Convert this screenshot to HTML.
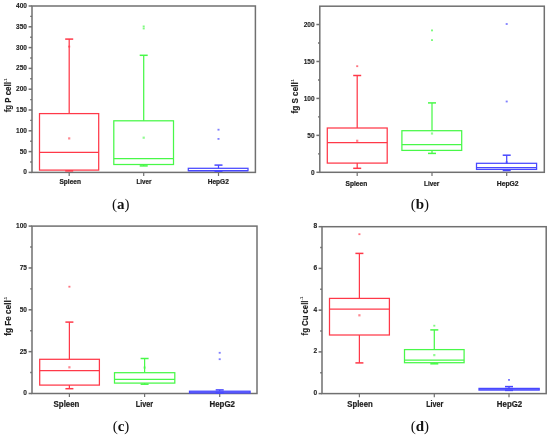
<!DOCTYPE html>
<html><head><meta charset="utf-8"><title>Box plots</title>
<style>
html,body{margin:0;padding:0;background:#fff;}
body{width:550px;height:437px;overflow:hidden;}
svg{display:block;filter:blur(0.35px);}
</style></head>
<body>
<svg width="550" height="437" viewBox="0 0 550 437">
<rect x="0" y="0" width="550" height="437" fill="#fff"/>
<rect x="32.00" y="6.00" width="223.40" height="166.40" fill="none" stroke="#707070" stroke-width="1.5"/>
<line x1="28.60" y1="172.40" x2="32.00" y2="172.40" stroke="#707070" stroke-width="1.5"/>
<text x="27.00" y="174.45" font-size="6.6" font-weight="bold" font-family="'Liberation Sans', Arial, sans-serif" text-anchor="end" fill="#1e1e1e" textLength="3.65" lengthAdjust="spacingAndGlyphs" stroke="#1e1e1e" stroke-width="0.12">0</text>
<line x1="28.60" y1="151.60" x2="32.00" y2="151.60" stroke="#707070" stroke-width="1.5"/>
<text x="27.00" y="153.65" font-size="6.6" font-weight="bold" font-family="'Liberation Sans', Arial, sans-serif" text-anchor="end" fill="#1e1e1e" textLength="7.3" lengthAdjust="spacingAndGlyphs" stroke="#1e1e1e" stroke-width="0.12">50</text>
<line x1="28.60" y1="130.80" x2="32.00" y2="130.80" stroke="#707070" stroke-width="1.5"/>
<text x="27.00" y="132.85" font-size="6.6" font-weight="bold" font-family="'Liberation Sans', Arial, sans-serif" text-anchor="end" fill="#1e1e1e" textLength="10.95" lengthAdjust="spacingAndGlyphs" stroke="#1e1e1e" stroke-width="0.12">100</text>
<line x1="28.60" y1="110.00" x2="32.00" y2="110.00" stroke="#707070" stroke-width="1.5"/>
<text x="27.00" y="112.05" font-size="6.6" font-weight="bold" font-family="'Liberation Sans', Arial, sans-serif" text-anchor="end" fill="#1e1e1e" textLength="10.95" lengthAdjust="spacingAndGlyphs" stroke="#1e1e1e" stroke-width="0.12">150</text>
<line x1="28.60" y1="89.20" x2="32.00" y2="89.20" stroke="#707070" stroke-width="1.5"/>
<text x="27.00" y="91.25" font-size="6.6" font-weight="bold" font-family="'Liberation Sans', Arial, sans-serif" text-anchor="end" fill="#1e1e1e" textLength="10.95" lengthAdjust="spacingAndGlyphs" stroke="#1e1e1e" stroke-width="0.12">200</text>
<line x1="28.60" y1="68.40" x2="32.00" y2="68.40" stroke="#707070" stroke-width="1.5"/>
<text x="27.00" y="70.45" font-size="6.6" font-weight="bold" font-family="'Liberation Sans', Arial, sans-serif" text-anchor="end" fill="#1e1e1e" textLength="10.95" lengthAdjust="spacingAndGlyphs" stroke="#1e1e1e" stroke-width="0.12">250</text>
<line x1="28.60" y1="47.60" x2="32.00" y2="47.60" stroke="#707070" stroke-width="1.5"/>
<text x="27.00" y="49.65" font-size="6.6" font-weight="bold" font-family="'Liberation Sans', Arial, sans-serif" text-anchor="end" fill="#1e1e1e" textLength="10.95" lengthAdjust="spacingAndGlyphs" stroke="#1e1e1e" stroke-width="0.12">300</text>
<line x1="28.60" y1="26.80" x2="32.00" y2="26.80" stroke="#707070" stroke-width="1.5"/>
<text x="27.00" y="28.85" font-size="6.6" font-weight="bold" font-family="'Liberation Sans', Arial, sans-serif" text-anchor="end" fill="#1e1e1e" textLength="10.95" lengthAdjust="spacingAndGlyphs" stroke="#1e1e1e" stroke-width="0.12">350</text>
<line x1="28.60" y1="6.00" x2="32.00" y2="6.00" stroke="#707070" stroke-width="1.5"/>
<text x="27.00" y="8.05" font-size="6.6" font-weight="bold" font-family="'Liberation Sans', Arial, sans-serif" text-anchor="end" fill="#1e1e1e" textLength="10.95" lengthAdjust="spacingAndGlyphs" stroke="#1e1e1e" stroke-width="0.12">400</text>
<line x1="30.20" y1="162.00" x2="32.00" y2="162.00" stroke="#707070" stroke-width="1.4"/>
<line x1="30.20" y1="141.20" x2="32.00" y2="141.20" stroke="#707070" stroke-width="1.4"/>
<line x1="30.20" y1="120.40" x2="32.00" y2="120.40" stroke="#707070" stroke-width="1.4"/>
<line x1="30.20" y1="99.60" x2="32.00" y2="99.60" stroke="#707070" stroke-width="1.4"/>
<line x1="30.20" y1="78.80" x2="32.00" y2="78.80" stroke="#707070" stroke-width="1.4"/>
<line x1="30.20" y1="58.00" x2="32.00" y2="58.00" stroke="#707070" stroke-width="1.4"/>
<line x1="30.20" y1="37.20" x2="32.00" y2="37.20" stroke="#707070" stroke-width="1.4"/>
<line x1="30.20" y1="16.40" x2="32.00" y2="16.40" stroke="#707070" stroke-width="1.4"/>
<line x1="69.20" y1="172.40" x2="69.20" y2="176.00" stroke="#707070" stroke-width="1.2"/>
<line x1="143.70" y1="172.40" x2="143.70" y2="176.00" stroke="#707070" stroke-width="1.2"/>
<line x1="218.50" y1="172.40" x2="218.50" y2="176.00" stroke="#707070" stroke-width="1.2"/>
<text x="70.20" y="183.90" font-size="6.6" font-weight="bold" font-family="'Liberation Sans', Arial, sans-serif" text-anchor="middle" fill="#1e1e1e" textLength="21.4" lengthAdjust="spacingAndGlyphs" stroke="#1e1e1e" stroke-width="0.22">Spleen</text>
<text x="144.00" y="183.90" font-size="6.6" font-weight="bold" font-family="'Liberation Sans', Arial, sans-serif" text-anchor="middle" fill="#1e1e1e" textLength="14.9" lengthAdjust="spacingAndGlyphs" stroke="#1e1e1e" stroke-width="0.22">Liver</text>
<text x="218.30" y="183.90" font-size="6.6" font-weight="bold" font-family="'Liberation Sans', Arial, sans-serif" text-anchor="middle" fill="#1e1e1e" textLength="21.1" lengthAdjust="spacingAndGlyphs" stroke="#1e1e1e" stroke-width="0.22">HepG2</text>
<text transform="translate(10.70,97.20) rotate(-90)" x="0" y="0" font-size="8.5" font-weight="bold" font-family="'Liberation Sans', Arial, sans-serif" text-anchor="middle" fill="#1e1e1e" stroke="#1e1e1e" stroke-width="0.15" textLength="30.2" lengthAdjust="spacingAndGlyphs">fg P cell</text>
<text transform="translate(7.20,82.20) rotate(-90)" x="0" y="0" font-size="4.1" font-weight="bold" font-family="'Liberation Sans', Arial, sans-serif" text-anchor="start" fill="#1e1e1e">-1</text>
<line x1="69.20" y1="39.10" x2="69.20" y2="113.60" stroke="#ff3848" stroke-width="1.25"/>
<line x1="69.20" y1="170.10" x2="69.20" y2="170.90" stroke="#ff3848" stroke-width="1.25"/>
<line x1="65.20" y1="39.10" x2="73.20" y2="39.10" stroke="#ff3848" stroke-width="1.5"/>
<line x1="65.20" y1="170.90" x2="73.20" y2="170.90" stroke="#ff3848" stroke-width="1.5"/>
<rect x="39.50" y="113.60" width="59.20" height="56.50" fill="none" stroke="#ff3848" stroke-width="1.25"/>
<line x1="39.50" y1="152.40" x2="98.70" y2="152.40" stroke="#ff3848" stroke-width="1.25"/>
<rect x="68.10" y="137.30" width="2.2" height="2.2" fill="#ff3848" opacity="0.6"/>
<rect x="68.20" y="45.70" width="2.0" height="1.8" fill="#ff3848" opacity="0.7"/>
<line x1="143.70" y1="55.30" x2="143.70" y2="120.80" stroke="#48f848" stroke-width="1.25"/>
<line x1="143.70" y1="164.50" x2="143.70" y2="165.90" stroke="#48f848" stroke-width="1.25"/>
<line x1="139.70" y1="55.30" x2="147.70" y2="55.30" stroke="#48f848" stroke-width="1.5"/>
<line x1="139.70" y1="165.90" x2="147.70" y2="165.90" stroke="#48f848" stroke-width="1.5"/>
<rect x="113.80" y="120.80" width="59.70" height="43.70" fill="none" stroke="#48f848" stroke-width="1.25"/>
<line x1="113.80" y1="158.70" x2="173.50" y2="158.70" stroke="#48f848" stroke-width="1.25"/>
<rect x="142.60" y="136.60" width="2.2" height="2.2" fill="#48f848" opacity="0.6"/>
<rect x="142.70" y="25.50" width="2.0" height="1.8" fill="#48f848" opacity="0.7"/>
<rect x="142.70" y="27.60" width="2.0" height="1.8" fill="#48f848" opacity="0.7"/>
<line x1="218.50" y1="165.10" x2="218.50" y2="168.30" stroke="#4848ff" stroke-width="1.25"/>
<line x1="218.50" y1="170.70" x2="218.50" y2="171.20" stroke="#4848ff" stroke-width="1.25"/>
<line x1="214.50" y1="165.10" x2="222.50" y2="165.10" stroke="#4848ff" stroke-width="1.5"/>
<line x1="214.50" y1="171.20" x2="222.50" y2="171.20" stroke="#4848ff" stroke-width="1.5"/>
<rect x="188.30" y="168.30" width="59.70" height="2.40" fill="none" stroke="#4848ff" stroke-width="1.25"/>
<line x1="188.30" y1="170.70" x2="248.00" y2="170.70" stroke="#4848ff" stroke-width="1.25"/>
<rect x="217.50" y="128.80" width="2.0" height="1.8" fill="#4848ff" opacity="0.7"/>
<rect x="217.50" y="138.00" width="2.0" height="1.8" fill="#4848ff" opacity="0.7"/>
<rect x="319.80" y="6.20" width="224.50" height="166.10" fill="none" stroke="#707070" stroke-width="1.5"/>
<line x1="316.40" y1="172.30" x2="319.80" y2="172.30" stroke="#707070" stroke-width="1.5"/>
<text x="314.60" y="174.75" font-size="6.6" font-weight="bold" font-family="'Liberation Sans', Arial, sans-serif" text-anchor="end" fill="#1e1e1e" textLength="3.65" lengthAdjust="spacingAndGlyphs" stroke="#1e1e1e" stroke-width="0.12">0</text>
<line x1="316.40" y1="135.36" x2="319.80" y2="135.36" stroke="#707070" stroke-width="1.5"/>
<text x="314.60" y="137.81" font-size="6.6" font-weight="bold" font-family="'Liberation Sans', Arial, sans-serif" text-anchor="end" fill="#1e1e1e" textLength="7.3" lengthAdjust="spacingAndGlyphs" stroke="#1e1e1e" stroke-width="0.12">50</text>
<line x1="316.40" y1="98.41" x2="319.80" y2="98.41" stroke="#707070" stroke-width="1.5"/>
<text x="314.60" y="100.86" font-size="6.6" font-weight="bold" font-family="'Liberation Sans', Arial, sans-serif" text-anchor="end" fill="#1e1e1e" textLength="10.95" lengthAdjust="spacingAndGlyphs" stroke="#1e1e1e" stroke-width="0.12">100</text>
<line x1="316.40" y1="61.47" x2="319.80" y2="61.47" stroke="#707070" stroke-width="1.5"/>
<text x="314.60" y="63.92" font-size="6.6" font-weight="bold" font-family="'Liberation Sans', Arial, sans-serif" text-anchor="end" fill="#1e1e1e" textLength="10.95" lengthAdjust="spacingAndGlyphs" stroke="#1e1e1e" stroke-width="0.12">150</text>
<line x1="316.40" y1="24.52" x2="319.80" y2="24.52" stroke="#707070" stroke-width="1.5"/>
<text x="314.60" y="26.97" font-size="6.6" font-weight="bold" font-family="'Liberation Sans', Arial, sans-serif" text-anchor="end" fill="#1e1e1e" textLength="10.95" lengthAdjust="spacingAndGlyphs" stroke="#1e1e1e" stroke-width="0.12">200</text>
<line x1="318.00" y1="153.83" x2="319.80" y2="153.83" stroke="#707070" stroke-width="1.4"/>
<line x1="318.00" y1="116.88" x2="319.80" y2="116.88" stroke="#707070" stroke-width="1.4"/>
<line x1="318.00" y1="79.94" x2="319.80" y2="79.94" stroke="#707070" stroke-width="1.4"/>
<line x1="318.00" y1="43.00" x2="319.80" y2="43.00" stroke="#707070" stroke-width="1.4"/>
<line x1="357.20" y1="172.30" x2="357.20" y2="175.90" stroke="#707070" stroke-width="1.2"/>
<line x1="432.00" y1="172.30" x2="432.00" y2="175.90" stroke="#707070" stroke-width="1.2"/>
<line x1="506.70" y1="172.30" x2="506.70" y2="175.90" stroke="#707070" stroke-width="1.2"/>
<text x="356.40" y="185.70" font-size="6.6" font-weight="bold" font-family="'Liberation Sans', Arial, sans-serif" text-anchor="middle" fill="#1e1e1e" textLength="21.7" lengthAdjust="spacingAndGlyphs" stroke="#1e1e1e" stroke-width="0.22">Spleen</text>
<text x="431.70" y="185.70" font-size="6.6" font-weight="bold" font-family="'Liberation Sans', Arial, sans-serif" text-anchor="middle" fill="#1e1e1e" textLength="15.3" lengthAdjust="spacingAndGlyphs" stroke="#1e1e1e" stroke-width="0.22">Liver</text>
<text x="507.70" y="185.70" font-size="6.6" font-weight="bold" font-family="'Liberation Sans', Arial, sans-serif" text-anchor="middle" fill="#1e1e1e" textLength="21.7" lengthAdjust="spacingAndGlyphs" stroke="#1e1e1e" stroke-width="0.22">HepG2</text>
<text transform="translate(298.00,97.90) rotate(-90)" x="0" y="0" font-size="8.5" font-weight="bold" font-family="'Liberation Sans', Arial, sans-serif" text-anchor="middle" fill="#1e1e1e" stroke="#1e1e1e" stroke-width="0.15" textLength="31.1" lengthAdjust="spacingAndGlyphs">fg S cell</text>
<text transform="translate(294.30,82.90) rotate(-90)" x="0" y="0" font-size="4.1" font-weight="bold" font-family="'Liberation Sans', Arial, sans-serif" text-anchor="start" fill="#1e1e1e">-1</text>
<line x1="357.20" y1="75.50" x2="357.20" y2="128.00" stroke="#ff3848" stroke-width="1.25"/>
<line x1="357.20" y1="163.10" x2="357.20" y2="168.30" stroke="#ff3848" stroke-width="1.25"/>
<line x1="353.20" y1="75.50" x2="361.20" y2="75.50" stroke="#ff3848" stroke-width="1.5"/>
<line x1="353.20" y1="168.30" x2="361.20" y2="168.30" stroke="#ff3848" stroke-width="1.5"/>
<rect x="327.30" y="128.00" width="59.90" height="35.10" fill="none" stroke="#ff3848" stroke-width="1.25"/>
<line x1="327.30" y1="142.50" x2="387.20" y2="142.50" stroke="#ff3848" stroke-width="1.25"/>
<rect x="356.10" y="139.70" width="2.2" height="2.2" fill="#ff3848" opacity="0.6"/>
<rect x="356.20" y="65.30" width="2.0" height="1.8" fill="#ff3848" opacity="0.7"/>
<line x1="432.00" y1="102.90" x2="432.00" y2="130.70" stroke="#48f848" stroke-width="1.25"/>
<line x1="432.00" y1="150.40" x2="432.00" y2="153.40" stroke="#48f848" stroke-width="1.25"/>
<line x1="428.00" y1="102.90" x2="436.00" y2="102.90" stroke="#48f848" stroke-width="1.5"/>
<line x1="428.00" y1="153.40" x2="436.00" y2="153.40" stroke="#48f848" stroke-width="1.5"/>
<rect x="401.90" y="130.70" width="59.80" height="19.70" fill="none" stroke="#48f848" stroke-width="1.25"/>
<line x1="401.90" y1="144.50" x2="461.70" y2="144.50" stroke="#48f848" stroke-width="1.25"/>
<rect x="430.90" y="132.40" width="2.2" height="2.2" fill="#48f848" opacity="0.6"/>
<rect x="431.00" y="29.50" width="2.0" height="1.8" fill="#48f848" opacity="0.7"/>
<rect x="431.00" y="39.20" width="2.0" height="1.8" fill="#48f848" opacity="0.7"/>
<line x1="506.70" y1="155.20" x2="506.70" y2="163.30" stroke="#4848ff" stroke-width="1.25"/>
<line x1="506.70" y1="169.40" x2="506.70" y2="170.50" stroke="#4848ff" stroke-width="1.25"/>
<line x1="502.70" y1="155.20" x2="510.70" y2="155.20" stroke="#4848ff" stroke-width="1.5"/>
<line x1="502.70" y1="170.50" x2="510.70" y2="170.50" stroke="#4848ff" stroke-width="1.5"/>
<rect x="476.50" y="163.30" width="60.10" height="6.10" fill="none" stroke="#4848ff" stroke-width="1.25"/>
<line x1="476.50" y1="167.50" x2="536.60" y2="167.50" stroke="#4848ff" stroke-width="1.25"/>
<rect x="505.60" y="161.20" width="2.2" height="2.2" fill="#4848ff" opacity="0.6"/>
<rect x="505.70" y="23.10" width="2.0" height="1.8" fill="#4848ff" opacity="0.7"/>
<rect x="505.70" y="100.60" width="2.0" height="1.8" fill="#4848ff" opacity="0.7"/>
<rect x="32.00" y="226.10" width="225.00" height="167.40" fill="none" stroke="#707070" stroke-width="1.5"/>
<line x1="28.60" y1="393.50" x2="32.00" y2="393.50" stroke="#707070" stroke-width="1.5"/>
<text x="27.00" y="395.40" font-size="6.6" font-weight="bold" font-family="'Liberation Sans', Arial, sans-serif" text-anchor="end" fill="#1e1e1e" textLength="3.65" lengthAdjust="spacingAndGlyphs" stroke="#1e1e1e" stroke-width="0.12">0</text>
<line x1="28.60" y1="351.65" x2="32.00" y2="351.65" stroke="#707070" stroke-width="1.5"/>
<text x="27.00" y="353.55" font-size="6.6" font-weight="bold" font-family="'Liberation Sans', Arial, sans-serif" text-anchor="end" fill="#1e1e1e" textLength="7.3" lengthAdjust="spacingAndGlyphs" stroke="#1e1e1e" stroke-width="0.12">25</text>
<line x1="28.60" y1="309.80" x2="32.00" y2="309.80" stroke="#707070" stroke-width="1.5"/>
<text x="27.00" y="311.70" font-size="6.6" font-weight="bold" font-family="'Liberation Sans', Arial, sans-serif" text-anchor="end" fill="#1e1e1e" textLength="7.3" lengthAdjust="spacingAndGlyphs" stroke="#1e1e1e" stroke-width="0.12">50</text>
<line x1="28.60" y1="267.95" x2="32.00" y2="267.95" stroke="#707070" stroke-width="1.5"/>
<text x="27.00" y="269.85" font-size="6.6" font-weight="bold" font-family="'Liberation Sans', Arial, sans-serif" text-anchor="end" fill="#1e1e1e" textLength="7.3" lengthAdjust="spacingAndGlyphs" stroke="#1e1e1e" stroke-width="0.12">75</text>
<line x1="28.60" y1="226.10" x2="32.00" y2="226.10" stroke="#707070" stroke-width="1.5"/>
<text x="27.00" y="228.00" font-size="6.6" font-weight="bold" font-family="'Liberation Sans', Arial, sans-serif" text-anchor="end" fill="#1e1e1e" textLength="10.95" lengthAdjust="spacingAndGlyphs" stroke="#1e1e1e" stroke-width="0.12">100</text>
<line x1="30.20" y1="372.57" x2="32.00" y2="372.57" stroke="#707070" stroke-width="1.4"/>
<line x1="30.20" y1="330.73" x2="32.00" y2="330.73" stroke="#707070" stroke-width="1.4"/>
<line x1="30.20" y1="288.88" x2="32.00" y2="288.88" stroke="#707070" stroke-width="1.4"/>
<line x1="30.20" y1="247.02" x2="32.00" y2="247.02" stroke="#707070" stroke-width="1.4"/>
<line x1="69.40" y1="393.50" x2="69.40" y2="397.10" stroke="#707070" stroke-width="1.2"/>
<line x1="144.60" y1="393.50" x2="144.60" y2="397.10" stroke="#707070" stroke-width="1.2"/>
<line x1="219.70" y1="393.50" x2="219.70" y2="397.10" stroke="#707070" stroke-width="1.2"/>
<text x="66.50" y="407.20" font-size="8.2" font-weight="bold" font-family="'Liberation Sans', Arial, sans-serif" text-anchor="middle" fill="#1e1e1e" textLength="25.8" lengthAdjust="spacingAndGlyphs" stroke="#1e1e1e" stroke-width="0.22">Spleen</text>
<text x="144.40" y="407.20" font-size="8.2" font-weight="bold" font-family="'Liberation Sans', Arial, sans-serif" text-anchor="middle" fill="#1e1e1e" textLength="17.2" lengthAdjust="spacingAndGlyphs" stroke="#1e1e1e" stroke-width="0.22">Liver</text>
<text x="222.20" y="407.20" font-size="8.2" font-weight="bold" font-family="'Liberation Sans', Arial, sans-serif" text-anchor="middle" fill="#1e1e1e" textLength="25.3" lengthAdjust="spacingAndGlyphs" stroke="#1e1e1e" stroke-width="0.22">HepG2</text>
<text transform="translate(10.80,318.00) rotate(-90)" x="0" y="0" font-size="8.5" font-weight="bold" font-family="'Liberation Sans', Arial, sans-serif" text-anchor="middle" fill="#1e1e1e" stroke="#1e1e1e" stroke-width="0.15" textLength="35.4" lengthAdjust="spacingAndGlyphs">fg Fe cell</text>
<text transform="translate(7.00,300.50) rotate(-90)" x="0" y="0" font-size="4.1" font-weight="bold" font-family="'Liberation Sans', Arial, sans-serif" text-anchor="start" fill="#1e1e1e">-1</text>
<line x1="69.40" y1="322.10" x2="69.40" y2="359.30" stroke="#ff3848" stroke-width="1.25"/>
<line x1="69.40" y1="385.10" x2="69.40" y2="388.70" stroke="#ff3848" stroke-width="1.25"/>
<line x1="65.40" y1="322.10" x2="73.40" y2="322.10" stroke="#ff3848" stroke-width="1.5"/>
<line x1="65.40" y1="388.70" x2="73.40" y2="388.70" stroke="#ff3848" stroke-width="1.5"/>
<rect x="39.70" y="359.30" width="59.70" height="25.80" fill="none" stroke="#ff3848" stroke-width="1.25"/>
<line x1="39.70" y1="370.50" x2="99.40" y2="370.50" stroke="#ff3848" stroke-width="1.25"/>
<rect x="68.30" y="366.20" width="2.2" height="2.2" fill="#ff3848" opacity="0.6"/>
<rect x="68.40" y="285.80" width="2.0" height="1.8" fill="#ff3848" opacity="0.7"/>
<line x1="144.60" y1="358.50" x2="144.60" y2="372.70" stroke="#48f848" stroke-width="1.25"/>
<line x1="144.60" y1="383.10" x2="144.60" y2="384.20" stroke="#48f848" stroke-width="1.25"/>
<line x1="140.60" y1="358.50" x2="148.60" y2="358.50" stroke="#48f848" stroke-width="1.5"/>
<line x1="140.60" y1="384.20" x2="148.60" y2="384.20" stroke="#48f848" stroke-width="1.5"/>
<rect x="114.50" y="372.70" width="60.30" height="10.40" fill="none" stroke="#48f848" stroke-width="1.25"/>
<line x1="114.50" y1="379.30" x2="174.80" y2="379.30" stroke="#48f848" stroke-width="1.25"/>
<rect x="143.50" y="366.50" width="2.2" height="2.2" fill="#48f848" opacity="0.6"/>
<line x1="219.70" y1="389.90" x2="219.70" y2="391.20" stroke="#4848ff" stroke-width="1.25"/>
<line x1="219.70" y1="393.00" x2="219.70" y2="393.00" stroke="#4848ff" stroke-width="1.25"/>
<line x1="215.70" y1="389.90" x2="223.70" y2="389.90" stroke="#4848ff" stroke-width="1.5"/>
<line x1="215.70" y1="393.00" x2="223.70" y2="393.00" stroke="#4848ff" stroke-width="1.5"/>
<rect x="189.50" y="391.20" width="60.60" height="1.80" fill="none" stroke="#4848ff" stroke-width="1.25"/>
<line x1="189.50" y1="392.20" x2="250.10" y2="392.20" stroke="#4848ff" stroke-width="1.25"/>
<rect x="218.70" y="351.90" width="2.0" height="1.8" fill="#4848ff" opacity="0.7"/>
<rect x="218.70" y="358.30" width="2.0" height="1.8" fill="#4848ff" opacity="0.7"/>
<rect x="322.00" y="226.70" width="224.20" height="166.90" fill="none" stroke="#707070" stroke-width="1.5"/>
<line x1="318.60" y1="393.60" x2="322.00" y2="393.60" stroke="#707070" stroke-width="1.5"/>
<text x="317.20" y="395.05" font-size="6.6" font-weight="bold" font-family="'Liberation Sans', Arial, sans-serif" text-anchor="end" fill="#1e1e1e" textLength="3.65" lengthAdjust="spacingAndGlyphs" stroke="#1e1e1e" stroke-width="0.12">0</text>
<line x1="318.60" y1="351.88" x2="322.00" y2="351.88" stroke="#707070" stroke-width="1.5"/>
<text x="317.20" y="353.32" font-size="6.6" font-weight="bold" font-family="'Liberation Sans', Arial, sans-serif" text-anchor="end" fill="#1e1e1e" textLength="3.65" lengthAdjust="spacingAndGlyphs" stroke="#1e1e1e" stroke-width="0.12">2</text>
<line x1="318.60" y1="310.15" x2="322.00" y2="310.15" stroke="#707070" stroke-width="1.5"/>
<text x="317.20" y="311.60" font-size="6.6" font-weight="bold" font-family="'Liberation Sans', Arial, sans-serif" text-anchor="end" fill="#1e1e1e" textLength="3.65" lengthAdjust="spacingAndGlyphs" stroke="#1e1e1e" stroke-width="0.12">4</text>
<line x1="318.60" y1="268.43" x2="322.00" y2="268.43" stroke="#707070" stroke-width="1.5"/>
<text x="317.20" y="269.88" font-size="6.6" font-weight="bold" font-family="'Liberation Sans', Arial, sans-serif" text-anchor="end" fill="#1e1e1e" textLength="3.65" lengthAdjust="spacingAndGlyphs" stroke="#1e1e1e" stroke-width="0.12">6</text>
<line x1="318.60" y1="226.70" x2="322.00" y2="226.70" stroke="#707070" stroke-width="1.5"/>
<text x="317.20" y="228.15" font-size="6.6" font-weight="bold" font-family="'Liberation Sans', Arial, sans-serif" text-anchor="end" fill="#1e1e1e" textLength="3.65" lengthAdjust="spacingAndGlyphs" stroke="#1e1e1e" stroke-width="0.12">8</text>
<line x1="320.20" y1="372.74" x2="322.00" y2="372.74" stroke="#707070" stroke-width="1.4"/>
<line x1="320.20" y1="331.01" x2="322.00" y2="331.01" stroke="#707070" stroke-width="1.4"/>
<line x1="320.20" y1="289.29" x2="322.00" y2="289.29" stroke="#707070" stroke-width="1.4"/>
<line x1="320.20" y1="247.56" x2="322.00" y2="247.56" stroke="#707070" stroke-width="1.4"/>
<line x1="359.40" y1="393.60" x2="359.40" y2="397.20" stroke="#707070" stroke-width="1.2"/>
<line x1="434.30" y1="393.60" x2="434.30" y2="397.20" stroke="#707070" stroke-width="1.2"/>
<line x1="509.00" y1="393.60" x2="509.00" y2="397.20" stroke="#707070" stroke-width="1.2"/>
<text x="360.00" y="407.20" font-size="8.2" font-weight="bold" font-family="'Liberation Sans', Arial, sans-serif" text-anchor="middle" fill="#1e1e1e" textLength="25.4" lengthAdjust="spacingAndGlyphs" stroke="#1e1e1e" stroke-width="0.22">Spleen</text>
<text x="434.80" y="407.20" font-size="8.2" font-weight="bold" font-family="'Liberation Sans', Arial, sans-serif" text-anchor="middle" fill="#1e1e1e" textLength="17.1" lengthAdjust="spacingAndGlyphs" stroke="#1e1e1e" stroke-width="0.22">Liver</text>
<text x="509.50" y="407.20" font-size="8.2" font-weight="bold" font-family="'Liberation Sans', Arial, sans-serif" text-anchor="middle" fill="#1e1e1e" textLength="25.3" lengthAdjust="spacingAndGlyphs" stroke="#1e1e1e" stroke-width="0.22">HepG2</text>
<text transform="translate(308.00,318.00) rotate(-90)" x="0" y="0" font-size="8.5" font-weight="bold" font-family="'Liberation Sans', Arial, sans-serif" text-anchor="middle" fill="#1e1e1e" stroke="#1e1e1e" stroke-width="0.15" textLength="34.9" lengthAdjust="spacingAndGlyphs">fg Cu cell</text>
<text transform="translate(303.40,300.40) rotate(-90)" x="0" y="0" font-size="4.1" font-weight="bold" font-family="'Liberation Sans', Arial, sans-serif" text-anchor="start" fill="#1e1e1e">-1</text>
<line x1="359.40" y1="253.40" x2="359.40" y2="298.40" stroke="#ff3848" stroke-width="1.25"/>
<line x1="359.40" y1="335.00" x2="359.40" y2="362.90" stroke="#ff3848" stroke-width="1.25"/>
<line x1="355.40" y1="253.40" x2="363.40" y2="253.40" stroke="#ff3848" stroke-width="1.5"/>
<line x1="355.40" y1="362.90" x2="363.40" y2="362.90" stroke="#ff3848" stroke-width="1.5"/>
<rect x="329.50" y="298.40" width="59.90" height="36.60" fill="none" stroke="#ff3848" stroke-width="1.25"/>
<line x1="329.50" y1="309.20" x2="389.40" y2="309.20" stroke="#ff3848" stroke-width="1.25"/>
<rect x="358.30" y="314.20" width="2.2" height="2.2" fill="#ff3848" opacity="0.6"/>
<rect x="358.40" y="233.30" width="2.0" height="1.8" fill="#ff3848" opacity="0.7"/>
<line x1="434.30" y1="329.90" x2="434.30" y2="349.60" stroke="#48f848" stroke-width="1.25"/>
<line x1="434.30" y1="362.70" x2="434.30" y2="363.80" stroke="#48f848" stroke-width="1.25"/>
<line x1="430.30" y1="329.90" x2="438.30" y2="329.90" stroke="#48f848" stroke-width="1.5"/>
<line x1="430.30" y1="363.80" x2="438.30" y2="363.80" stroke="#48f848" stroke-width="1.5"/>
<rect x="404.50" y="349.60" width="59.60" height="13.10" fill="none" stroke="#48f848" stroke-width="1.25"/>
<line x1="404.50" y1="360.00" x2="464.10" y2="360.00" stroke="#48f848" stroke-width="1.25"/>
<rect x="433.20" y="354.00" width="2.2" height="2.2" fill="#48f848" opacity="0.6"/>
<rect x="433.30" y="324.80" width="2.0" height="1.8" fill="#48f848" opacity="0.7"/>
<line x1="509.00" y1="386.60" x2="509.00" y2="388.40" stroke="#4848ff" stroke-width="1.25"/>
<line x1="509.00" y1="390.10" x2="509.00" y2="390.40" stroke="#4848ff" stroke-width="1.25"/>
<line x1="505.00" y1="386.60" x2="513.00" y2="386.60" stroke="#4848ff" stroke-width="1.5"/>
<line x1="505.00" y1="390.40" x2="513.00" y2="390.40" stroke="#4848ff" stroke-width="1.5"/>
<rect x="479.00" y="388.40" width="60.20" height="1.70" fill="none" stroke="#4848ff" stroke-width="1.25"/>
<line x1="479.00" y1="389.20" x2="539.20" y2="389.20" stroke="#4848ff" stroke-width="1.25"/>
<rect x="508.00" y="379.00" width="2.0" height="1.8" fill="#4848ff" opacity="0.7"/>
<text x="120.75" y="209.20" font-size="15" font-family="'Liberation Serif', 'Times New Roman', serif" text-anchor="middle" fill="#111">(<tspan font-weight="bold">a</tspan>)</text>
<text x="419.90" y="209.20" font-size="15" font-family="'Liberation Serif', 'Times New Roman', serif" text-anchor="middle" fill="#111">(<tspan font-weight="bold">b</tspan>)</text>
<text x="121.00" y="431.20" font-size="15" font-family="'Liberation Serif', 'Times New Roman', serif" text-anchor="middle" fill="#111">(<tspan font-weight="bold">c</tspan>)</text>
<text x="419.90" y="431.20" font-size="15" font-family="'Liberation Serif', 'Times New Roman', serif" text-anchor="middle" fill="#111">(<tspan font-weight="bold">d</tspan>)</text>
</svg>
</body></html>
